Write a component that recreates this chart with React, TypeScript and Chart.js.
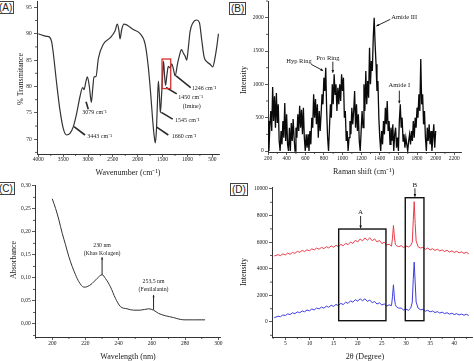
import { useEffect, useRef } from 'react';
import { Chart, registerables } from 'chart.js';

Chart.register(...registerables);

const SERIF = '"Liberation Serif", "Times New Roman", serif';
const SANS = '"Liberation Sans", Arial, sans-serif';

// ---------- (A) FTIR ----------
const ftirWavenumber = [4000, 3832, 3779, 3732, 3698, 3631, 3564, 3497, 3430, 3363, 3295, 3228, 3161, 3108, 3081, 3040, 3014, 2973, 2933, 2906, 2879, 2839, 2792, 2692, 2557, 2457, 2410, 2376, 2356, 2322, 2275, 2088, 1953, 1853, 1786, 1739, 1698, 1665, 1645, 1625, 1605, 1585, 1565, 1545, 1525, 1500, 1480, 1460, 1440, 1415, 1385, 1350, 1316, 1282, 1246, 1200, 1160, 1120, 1081, 1048, 1014, 980, 947, 893, 813, 759, 712, 665, 611, 544, 491, 444, 410, 376];
const ftirTransmittance = [90.0, 89.5, 89.4, 88.5, 86.3, 80.6, 75.5, 72.0, 70.8, 71.1, 72.4, 74.9, 78.1, 79.8, 79.4, 81.0, 81.8, 80.0, 77.0, 79.5, 81.8, 81.9, 85.3, 88.0, 89.2, 90.5, 91.8, 90.5, 89.0, 90.8, 91.8, 90.8, 90.0, 88.1, 83.6, 78.6, 73.5, 70.3, 69.3, 71.5, 76.5, 81.0, 78.5, 75.0, 77.5, 82.0, 84.8, 82.0, 80.2, 82.0, 83.8, 83.5, 84.3, 83.3, 82.0, 84.3, 85.9, 87.0, 86.3, 85.8, 85.0, 87.5, 90.4, 92.0, 92.6, 92.1, 88.8, 85.6, 84.7, 84.2, 83.7, 85.5, 87.5, 90.0];
const ftirXTicks = [4000, 3500, 3000, 2500, 2000, 1500, 1000, 500];
const ftirXMinor = [3750, 3250, 2750, 2250, 1750, 1250, 750];
const ftirYTicks = [70, 75, 80, 85, 90, 95];
const ftirYMinor = [67.5, 72.5, 77.5, 82.5, 87.5, 92.5];
const ftirLeaders = [
  [3040, 77.1, 2994, 75.7],
  [3282, 72.4, 3060, 70.8],
  [1618, 72.3, 1384, 70.8],
  [1525, 75.1, 1296, 73.8],
  [1430, 79.8, 1215, 78.6],
  [1229, 82.0, 934, 79.8],
];
const ftirLabels: [string, number, number][] = [
  ['3079 cm⁻¹', 3115, 75.0],
  ['3443 cm⁻¹', 3014, 70.5],
  ['1660 cm⁻¹', 1316, 70.5],
  ['1545 cm⁻¹', 1250, 73.5],
  ['1450 cm⁻¹', 1183, 78.0],
  ['(Imine)', 1094, 76.3],
  ['1246 cm⁻¹', 913, 79.6],
];
const ftirBox = [1511, 85.2, 1336, 79.6];

// ---------- (B) Raman ----------
const ramanShift = [200, 210, 220, 230, 240, 250, 260, 270, 280, 290, 300, 310, 320, 330, 340, 350, 360, 370, 380, 390, 400, 410, 420, 430, 440, 450, 460, 470, 480, 490, 500, 510, 520, 530, 540, 550, 560, 570, 580, 590, 600, 610, 620, 630, 640, 650, 660, 670, 680, 690, 700, 710, 720, 730, 740, 750, 760, 770, 780, 790, 800, 810, 820, 830, 840, 850, 860, 870, 880, 890, 900, 910, 920, 930, 940, 950, 960, 970, 980, 990, 1000, 1010, 1020, 1030, 1040, 1050, 1060, 1070, 1080, 1090, 1100, 1110, 1120, 1130, 1140, 1150, 1160, 1170, 1180, 1190, 1200, 1210, 1220, 1230, 1240, 1250, 1260, 1270, 1280, 1290, 1300, 1310, 1320, 1330, 1340, 1350, 1360, 1370, 1380, 1390, 1400, 1410, 1420, 1430, 1440, 1450, 1460, 1470, 1480, 1490, 1500, 1510, 1520, 1530, 1540, 1550, 1560, 1570, 1580, 1590, 1600, 1610, 1620, 1630, 1640, 1650, 1660, 1670, 1680, 1690, 1700, 1710, 1720, 1730, 1740, 1750, 1760, 1770, 1780, 1790, 1800, 1810, 1820, 1830, 1840, 1850, 1860, 1870, 1880, 1890, 1900, 1910, 1920, 1930, 1940, 1950, 1960, 1970, 1980, 1990, 2000];
const ramanIntensity = [450, 0, 380, 600, 300, 960, 450, 820, 350, 870, 420, 700, 150, 0, 300, 100, 450, 200, 720, 150, 550, 100, 0, 350, 0, 420, 150, 480, 200, 0, 350, 200, 550, 300, 680, 350, 620, 250, 650, 200, 0, 250, 50, 250, 0, 300, 100, 500, 350, 850, 500, 780, 400, 700, 200, 600, 300, 550, 850, 700, 1100, 900, 1250, 600, 200, 0, 350, 700, 500, 1000, 700, 1150, 850, 1000, 600, 950, 700, 1000, 750, 1150, 900, 1100, 500, 600, 150, 300, 0, 200, 450, 250, 650, 400, 600, 900, 350, 700, 300, 550, 150, 0, 300, 600, 350, 1000, 600, 1200, 700, 1050, 800, 1550, 1000, 1350, 1200, 1700, 2000, 1600, 1300, 900, 1050, 500, 200, 0, 300, 100, 450, 250, 650, 400, 750, 300, 450, 100, 350, 150, 400, 0, 250, 350, 50, 200, 0, 450, 700, 350, 500, 150, 250, 50, 200, 100, 0, 150, 250, 100, 300, 150, 450, 200, 500, 350, 650, 500, 850, 600, 1380, 700, 850, 400, 600, 200, 0, 350, 150, 400, 100, 300, 0, 200, 400, 50, 300];
const ramanXTicks = [200, 400, 600, 800, 1000, 1200, 1400, 1600, 1800, 2000, 2200];
const ramanXMinor = [300, 500, 700, 900, 1100, 1300, 1500, 1700, 1900, 2100];
const ramanYTicks = [0, 500, 1000, 1500, 2000];
const ramanYMinor = [250, 750, 1250, 1750, 2250];
const ramanArrows = [
  [1513, 1975, 1363, 1874],
  [664, 1300, 792, 1204],
  [896, 1340, 896, 1174],
  [1610, 905, 1610, 715],
];
const ramanLabels: [string, number, number, CanvasTextAlign][] = [
  ['Amide III', 1524, 2005, 'left'],
  ['Hyp Ring', 533, 1350, 'center'],
  ['Pro Ring', 843, 1390, 'center'],
  ['Amide I', 1610, 990, 'center'],
];

// ---------- (C) UV-Vis ----------
const uvWavelength = [200, 202, 204, 206, 208, 210, 212, 214, 216, 219, 221, 224, 227, 230, 232, 235, 238, 241, 245, 249, 253, 258, 261, 264, 268, 273, 277, 280, 285, 292];
const uvAbsorbance = [0.272, 0.251, 0.226, 0.197, 0.172, 0.146, 0.125, 0.107, 0.092, 0.080, 0.081, 0.088, 0.099, 0.107, 0.099, 0.081, 0.056, 0.038, 0.033, 0.030, 0.030, 0.033, 0.030, 0.023, 0.018, 0.014, 0.010, 0.009, 0.009, 0.009];
const uvXTicks = [200, 220, 240, 260, 280, 300];
const uvXMinor = [190, 210, 230, 250, 270, 290];
const uvYTicks = [0, 0.05, 0.1, 0.15, 0.2, 0.25, 0.3];
const uvYMinor = [-0.025, 0.025, 0.075, 0.125, 0.175, 0.225, 0.275];
const uvArrows = [
  [230, 0.107, 230, 0.145],
  [261, 0.031, 261, 0.063],
];
const uvLabels: [string, number, number][] = [
  ['230 nm', 230, 0.170],
  ['(Khas Kolagen)', 230, 0.154],
  ['253,5 nm', 261, 0.092],
  ['(Fenilalanin)', 261, 0.076],
];

// ---------- (D) XRD ----------
const xrdAngle = [2.7, 3.5, 4, 4.5, 5, 5.5, 6, 6.5, 7, 7.5, 8, 8.5, 9, 9.5, 10, 10.5, 11, 11.5, 12, 12.5, 13, 13.5, 14, 14.5, 15, 15.5, 16, 16.5, 17, 17.5, 18, 18.5, 19, 19.5, 20, 20.5, 21, 21.5, 22, 22.5, 23, 23.5, 24, 24.5, 25, 25.5, 26, 26.5, 27, 27.2, 27.4, 27.6, 27.8, 28, 28.5, 29, 29.5, 30, 30.5, 31, 31.3, 31.5, 31.7, 31.9, 32.1, 32.5, 33, 33.5, 34, 34.5, 35, 35.5, 36, 36.5, 37, 37.5, 38, 38.5, 39, 39.5, 40, 40.5, 41, 41.5, 42, 42.5, 43];
const xrdRed = [4960, 5060, 4990, 5120, 5040, 5180, 5090, 5230, 5160, 5310, 5240, 5380, 5300, 5430, 5350, 5500, 5420, 5560, 5470, 5610, 5520, 5660, 5570, 5720, 5620, 5770, 5660, 5830, 5740, 5920, 5810, 6010, 5910, 6140, 6020, 6240, 6100, 6320, 6150, 6330, 6110, 6250, 6020, 6130, 5900, 6000, 5790, 5850, 5700, 6300, 7250, 6400, 5850, 5740, 5660, 5740, 5600, 5720, 5640, 5760, 6000, 7600, 9050, 7400, 6100, 5660, 5560, 5610, 5460, 5560, 5420, 5510, 5380, 5470, 5340, 5420, 5300, 5390, 5260, 5350, 5230, 5320, 5200, 5280, 5160, 5240, 5130];
const xrdBlue = [320, 440, 400, 530, 490, 610, 560, 690, 630, 760, 700, 830, 770, 900, 840, 980, 910, 1050, 980, 1120, 1040, 1190, 1110, 1260, 1170, 1320, 1230, 1400, 1310, 1490, 1400, 1590, 1490, 1680, 1570, 1750, 1600, 1740, 1550, 1650, 1450, 1540, 1350, 1440, 1280, 1360, 1200, 1290, 1230, 1900, 2800, 1800, 1300, 1150, 1040, 1050, 900, 970, 880, 1060, 1500, 3200, 4500, 3000, 1500, 1050, 920, 950, 810, 880, 760, 830, 710, 780, 670, 740, 630, 700, 590, 660, 560, 630, 530, 600, 510, 580, 490];
const xrdXTicks = [5, 10, 15, 20, 25, 30, 35, 40];
const xrdXMinor = [2.5, 7.5, 12.5, 17.5, 22.5, 27.5, 32.5, 37.5, 42.5];
const xrdYTicks = [0, 2000, 4000, 6000, 8000, 10000];
const xrdYMinor = [-1000, 1000, 3000, 5000, 7000, 9000];
const xrdBoxes = [
  [16.06, 6990, 25.85, 98],
  [29.85, 9345, 33.72, 98],
];
const xrdArrows = [
  [20.6, 7970, 20.6, 7045],
  [31.85, 10050, 31.85, 9420],
];
const xrdLabels: [string, number, number][] = [
  ['A', 20.6, 8290],
  ['B', 31.85, 10300],
];

// ---------- helpers ----------
type Fn = (v: number) => number;
type Axis = {
  min: number; max: number; reverse?: boolean; ticks: number[]; minor: number[];
  fmt: (v: number) => string; title: string; titleAt: [number, number]; pad: number;
};
type Spec = {
  w: number; h: number; area: [number, number, number, number];
  x: Axis; y: Axis; datasets: any[]; tickSize: number; titleSize: number;
  draw: (ctx: CanvasRenderingContext2D, X: Fn, Y: Fn) => void;
};

const pts = (xs: number[], ys: number[]) => xs.map((x, i) => ({ x, y: ys[i] }));

function arrow(ctx: CanvasRenderingContext2D, x1: number, y1: number, x2: number, y2: number, head: number, width: number) {
  ctx.lineWidth = width;
  ctx.beginPath();
  ctx.moveTo(x1, y1);
  ctx.lineTo(x2, y2);
  ctx.stroke();
  const a = Math.atan2(y2 - y1, x2 - x1);
  ctx.beginPath();
  ctx.moveTo(x2, y2);
  ctx.lineTo(x2 - head * Math.cos(a - 0.45), y2 - head * Math.sin(a - 0.45));
  ctx.lineTo(x2 - head * Math.cos(a + 0.45), y2 - head * Math.sin(a + 0.45));
  ctx.closePath();
  ctx.fill();
}

function buildChart(canvas: HTMLCanvasElement, s: Spec) {
  const [l, t, r, b] = s.area;
  const common = (ax: Axis) => ({
    type: 'linear' as const,
    min: ax.min,
    max: ax.max,
    reverse: !!ax.reverse,
    afterBuildTicks: (sc: any) => { sc.ticks = ax.ticks.map((v) => ({ value: v })); },
    ticks: {
      autoSkip: false, maxRotation: 0, minRotation: 0, padding: ax.pad,
      font: { family: SERIF, size: s.tickSize }, color: '#1a1a1a',
      callback: (v: any) => ax.fmt(Number(v)),
    },
    grid: { drawOnChartArea: false, drawTicks: true, tickLength: 3, color: '#333', lineWidth: 0.8 },
    border: { display: true, color: '#333', width: 1 },
    title: { display: false },
  });
  return new Chart(canvas, {
    type: 'line',
    data: { datasets: s.datasets },
    options: {
      animation: false,
      responsive: false,
      maintainAspectRatio: false,
      devicePixelRatio: 1,
      layout: { padding: { left: 0, top: t, right: s.w - r, bottom: 0 } },
      plugins: { legend: { display: false }, tooltip: { enabled: false } },
      elements: { point: { radius: 0 } },
      scales: {
        x: {
          ...common(s.x), position: 'bottom',
          afterFit: (sc: any) => { sc.height = s.h - b; sc.paddingLeft = 0; sc.paddingRight = 0; },
        },
        y: {
          ...common(s.y), position: 'left',
          afterFit: (sc: any) => { sc.width = l; sc.paddingTop = 0; sc.paddingBottom = 0; },
        },
      },
    } as any,
    plugins: [{
      id: 'extras',
      afterDraw(chart: any) {
        const ctx: CanvasRenderingContext2D = chart.ctx;
        const a = chart.chartArea;
        const X: Fn = (v) => chart.scales.x.getPixelForValue(v);
        const Y: Fn = (v) => chart.scales.y.getPixelForValue(v);
        ctx.save();
        ctx.strokeStyle = '#333';
        ctx.lineWidth = 0.8;
        ctx.beginPath();
        s.x.minor.forEach((v) => {
          const p = X(v);
          if (p < a.left - 0.5 || p > a.right + 0.5) return;
          ctx.moveTo(p, a.bottom); ctx.lineTo(p, a.bottom + 2);
        });
        s.y.minor.forEach((v) => {
          const p = Y(v);
          if (p < a.top - 0.5 || p > a.bottom + 0.5) return;
          ctx.moveTo(a.left, p); ctx.lineTo(a.left - 2, p);
        });
        ctx.stroke();
        ctx.fillStyle = '#1a1a1a';
        ctx.font = `${s.titleSize}px ${SERIF}`;
        ctx.textAlign = 'center';
        ctx.textBaseline = 'middle';
        ctx.fillText(s.x.title, s.x.titleAt[0], s.x.titleAt[1]);
        ctx.save();
        ctx.translate(s.y.titleAt[0], s.y.titleAt[1]);
        ctx.rotate(-Math.PI / 2);
        ctx.fillText(s.y.title, 0, 0);
        ctx.restore();
        s.draw(ctx, X, Y);
        ctx.restore();
      },
    }],
  });
}

// ---------- panel specs ----------
const specA: Spec = {
  w: 237, h: 180, area: [37, 1, 219, 154], tickSize: 5.5, titleSize: 8,
  x: { min: 365, max: 4026, reverse: true, ticks: ftirXTicks, minor: ftirXMinor, fmt: String, title: 'Wavenumber (cm⁻¹)', titleAt: [128, 172.7], pad: -1 },
  y: { min: 67.2, max: 96.2, ticks: ftirYTicks, minor: ftirYMinor, fmt: String, title: '% Transmitance', titleAt: [21, 79], pad: 2.3 },
  datasets: [{ data: pts(ftirWavenumber, ftirTransmittance), borderColor: '#333', borderWidth: 1.2, cubicInterpolationMode: 'monotone', pointRadius: 0, fill: false }],
  draw: (ctx, X, Y) => {
    ctx.strokeStyle = '#2a2a2a';
    ctx.lineWidth = 1.6;
    ftirLeaders.forEach(([x1, y1, x2, y2]) => {
      ctx.beginPath(); ctx.moveTo(X(x1), Y(y1)); ctx.lineTo(X(x2), Y(y2)); ctx.stroke();
    });
    ctx.strokeStyle = '#d32f2f';
    ctx.lineWidth = 1.3;
    const [bx1, by1, bx2, by2] = ftirBox;
    ctx.strokeRect(X(bx1), Y(by1), X(bx2) - X(bx1), Y(by2) - Y(by1));
    ctx.fillStyle = '#1a1a1a';
    ctx.font = `6px ${SERIF}`;
    ctx.textAlign = 'left';
    ctx.textBaseline = 'middle';
    ftirLabels.forEach(([txt, x, y]) => ctx.fillText(txt, X(x), Y(y)));
  },
};

const specB: Spec = {
  w: 237, h: 180, area: [31, 1, 224, 152], tickSize: 5.5, titleSize: 8,
  x: { min: 200, max: 2272, ticks: ramanXTicks, minor: ramanXMinor, fmt: String, title: 'Raman shift (cm⁻¹)', titleAt: [126.7, 172], pad: 0 },
  y: { min: -15, max: 2250, ticks: ramanYTicks, minor: ramanYMinor, fmt: String, title: 'Intensity', titleAt: [7, 80], pad: 1.3 },
  datasets: [{ data: pts(ramanShift, ramanIntensity), borderColor: '#0a0a0a', borderWidth: 1.3, tension: 0, pointRadius: 0, fill: false }],
  draw: (ctx, X, Y) => {
    ctx.strokeStyle = '#111';
    ctx.fillStyle = '#111';
    ramanArrows.forEach(([x1, y1, x2, y2]) => arrow(ctx, X(x1), Y(y1), X(x2), Y(y2), 3, 0.9));
    ctx.fillStyle = '#1a1a1a';
    ctx.font = `6.5px ${SERIF}`;
    ctx.textBaseline = 'middle';
    ramanLabels.forEach(([txt, x, y, al]) => { ctx.textAlign = al; ctx.fillText(txt, X(x), Y(y)); });
  },
};

const specC: Spec = {
  w: 237, h: 186, area: [35, 10, 220, 162], tickSize: 5.5, titleSize: 8,
  x: { min: 189.6, max: 301, ticks: uvXTicks, minor: uvXMinor, fmt: String, title: 'Wavelength (nm)', titleAt: [128, 181.7], pad: 0 },
  y: { min: -0.0283, max: 0.302, ticks: uvYTicks, minor: uvYMinor, fmt: (v) => v.toFixed(2).replace('.', ','), title: 'Absorbance', titleAt: [14, 85], pad: 1.3 },
  datasets: [{ data: pts(uvWavelength, uvAbsorbance), borderColor: '#333', borderWidth: 1, cubicInterpolationMode: 'monotone', pointRadius: 0, fill: false }],
  draw: (ctx, X, Y) => {
    ctx.strokeStyle = '#222';
    ctx.fillStyle = '#222';
    uvArrows.forEach(([x1, y1, x2, y2]) => arrow(ctx, X(x1), Y(y1), X(x2), Y(y2), 2.5, 1));
    ctx.font = `5.8px ${SERIF}`;
    ctx.textAlign = 'center';
    ctx.textBaseline = 'middle';
    uvLabels.forEach(([txt, x, y]) => ctx.fillText(txt, X(x), Y(y)));
  },
};

const specD: Spec = {
  w: 237, h: 186, area: [35, 12, 235, 162], tickSize: 5.5, titleSize: 8,
  x: { min: 2.25, max: 43.67, ticks: xrdXTicks, minor: xrdXMinor, fmt: String, title: '2θ (Degree)', titleAt: [128, 181.7], pad: 0 },
  y: { min: -1128, max: 10150, ticks: xrdYTicks, minor: xrdYMinor, fmt: String, title: 'Intensity', titleAt: [7, 97], pad: 1.3 },
  datasets: [
    { data: pts(xrdAngle, xrdRed), borderColor: 'rgb(232,60,72)', borderWidth: 1, tension: 0, pointRadius: 0, fill: false },
    { data: pts(xrdAngle, xrdBlue), borderColor: 'rgb(60,60,225)', borderWidth: 1, tension: 0, pointRadius: 0, fill: false },
  ],
  draw: (ctx, X, Y) => {
    ctx.strokeStyle = '#111';
    ctx.lineWidth = 1.4;
    xrdBoxes.forEach(([x1, y1, x2, y2]) => ctx.strokeRect(X(x1), Y(y1), X(x2) - X(x1), Y(y2) - Y(y1)));
    ctx.fillStyle = '#111';
    xrdArrows.forEach(([x1, y1, x2, y2]) => arrow(ctx, X(x1), Y(y1), X(x2), Y(y2), 3, 0.9));
    ctx.fillStyle = '#1a1a1a';
    ctx.font = `7px ${SERIF}`;
    ctx.textAlign = 'center';
    ctx.textBaseline = 'middle';
    xrdLabels.forEach(([txt, x, y]) => ctx.fillText(txt, X(x), Y(y)));
  },
};

function Panel({ spec, left, top }: { spec: Spec; left: number; top: number }) {
  const ref = useRef<HTMLCanvasElement>(null);
  useEffect(() => {
    const chart = buildChart(ref.current as HTMLCanvasElement, spec);
    return () => chart.destroy();
  }, [spec]);
  return (
    <canvas
      ref={ref}
      width={spec.w}
      height={spec.h}
      style={{ position: 'absolute', left, top, width: spec.w, height: spec.h }}
    />
  );
}

function Tag({ text, left, top }: { text: string; left: number; top: number }) {
  return (
    <div
      style={{
        position: 'absolute', left, top, border: '1px solid #444', padding: '0 1px',
        font: `10px ${SANS}`, lineHeight: '11px', color: '#222', background: '#fff', zIndex: 2,
      }}
    >
      {text}
    </div>
  );
}

export default function App() {
  return (
    <div style={{ position: 'absolute', left: 0, top: 0, width: 474, height: 361, background: '#fff', overflow: 'hidden' }}>
      <Panel spec={specA} left={0} top={0} />
      <Panel spec={specB} left={237} top={0} />
      <Panel spec={specC} left={0} top={175} />
      <Panel spec={specD} left={237} top={175} />
      <Tag text="(A)" left={-3} top={1} />
      <Tag text="(B)" left={229} top={2} />
      <Tag text="(C)" left={-3} top={182} />
      <Tag text="(D)" left={230} top={183} />
    </div>
  );
}
